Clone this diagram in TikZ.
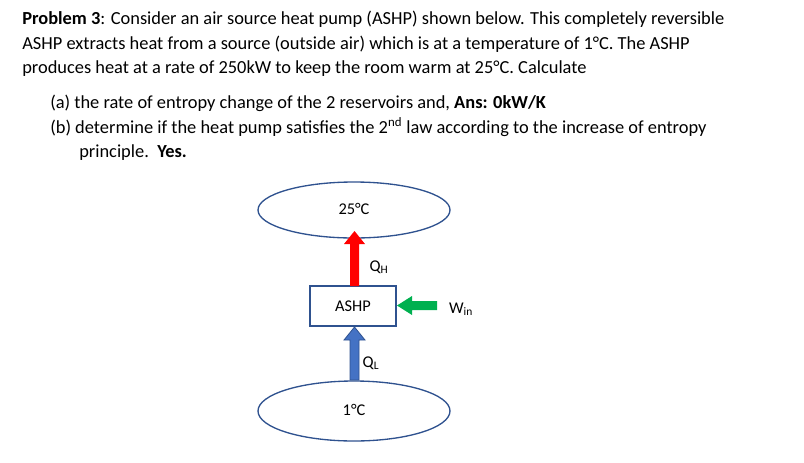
\documentclass[tikz,border=0pt]{standalone}
\usepackage{fontspec}
\setmainfont{Carlito}
\definecolor{edge}{RGB}{47,82,143}
\definecolor{qlb}{RGB}{68,114,196}
\definecolor{wg}{RGB}{0,176,80}
\begin{document}
\begin{tikzpicture}[x=0.75pt,y=-0.75pt,
  txt/.style={anchor=base west,inner sep=0pt,font=\fontsize{13.8pt}{16pt}\selectfont},
  lbl/.style={font=\fontsize{12.3pt}{14pt}\selectfont,inner sep=0pt}]
\useasboundingbox (0,0) rectangle (804,462);
\node[txt] (l1) at (22,24) {\textbf{Problem 3}: Consider an air source heat pump (ASHP) shown below. This completely reversible};
\node[txt] (l2) at (22,49) {ASHP extracts heat from a source (outside air) which is at a temperature of 1°C. The ASHP};
\node[txt] (l3) at (22,73) {produces heat at a rate of 250kW to keep the room warm at 25°C. Calculate};
\node[txt] (l4) at (50,108) {(a) the rate of entropy change of the 2 reservoirs and, \textbf{Ans: 0kW/K}};
\node[txt] (l5) at (50,133) {(b) determine if the heat pump satisfies the 2\textsuperscript{nd} law according to the increase of entropy};
\node[txt] (l6) at (79,157) {principle.\ \ \textbf{Yes.}};
\draw[draw=edge,line width=1pt] (354,210) ellipse (96 and 28);
\node[lbl] (hot) at (354,209) {25°C};
\draw[draw=edge,line width=1pt] (354,411) ellipse (96 and 30);
\node[lbl] (cold) at (354,410) {1°C};
\node[draw=edge,line width=1.2pt,minimum width=86*0.75pt,minimum height=40*0.75pt,lbl] (hp) at (353,306) {ASHP};
\fill[red] (350,286) -- (350,244) -- (344,244) -- (354.5,231) -- (365,244) -- (359,244) -- (359,286) -- cycle;
\filldraw[fill=qlb,draw=edge,line width=0.6pt] (350,380) -- (350,340) -- (344,340) -- (354.5,327) -- (365,340) -- (359,340) -- (359,380) -- cycle;
\fill[wg] (437,301) -- (412,301) -- (412,296) -- (397,305.5) -- (412,315) -- (412,310) -- (437,310) -- cycle;
\node[lbl] (qh) at (379,267) {Q\textsubscript{H}};
\node[lbl] (ql) at (371,363) {Q\textsubscript{L}};
\node[lbl] (win) at (461,309) {W\textsubscript{in}};
\end{tikzpicture}
\end{document}
